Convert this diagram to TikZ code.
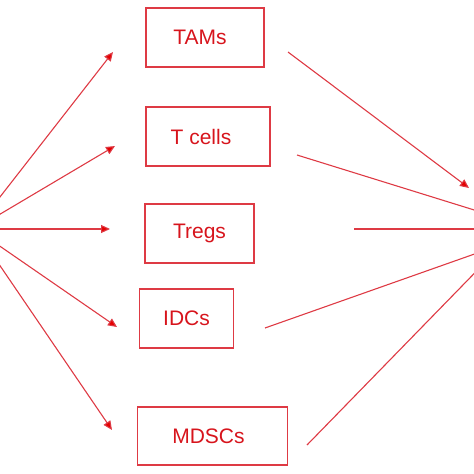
\documentclass[tikz,border=0pt]{standalone}
\usepackage{fontspec}
\setmainfont{Liberation Sans}
\usetikzlibrary{arrows.meta}
\definecolor{lred}{RGB}{222,58,68}
\definecolor{tred}{RGB}{215,20,28}
\tikzset{
  cellbox/.style={draw=lred, line width=1.2pt, rectangle, inner sep=0pt, text=tred,
    font=\fontsize{21}{24}\selectfont, anchor=center},
  conn/.style={draw=lred, line width=1.1pt},
  arr/.style={conn, -{Triangle[length=9pt,width=8pt,fill=red!90!black]}}
}
\begin{document}
\begin{tikzpicture}[x=1pt,y=-1pt]
\useasboundingbox (0,0) rectangle (474,474);
\clip (0,0) rectangle (474,474);
% boxes
\node[cellbox, minimum width=118pt, minimum height=59pt] (tams) at (205,37.5) {\hspace*{-10pt}TAMs};
\node[cellbox, minimum width=124pt, minimum height=59pt] (tcells) at (208,136.5) {\hspace*{-14pt}T cells};
\node[cellbox, minimum width=109pt, minimum height=59pt] (tregs) at (199.5,233.5) {Tregs};
\node[cellbox, minimum width=94pt, minimum height=59pt] (idcs) at (186.5,318.5) {IDCs};
\node[cellbox, minimum width=150pt, minimum height=58pt] (mdscs) at (212.5,436) {\hspace*{-8pt}MDSCs};
% left source and arrow ends
\coordinate (src) at (-25,229);
\coordinate (l1) at (113,52);
\coordinate (l2) at (115,146);
\coordinate (l3) at (110,229);
\coordinate (l4) at (117,327);
\coordinate (l5) at (112,430);
\draw[arr] (src) -- (l1);
\draw[arr] (src) -- (l2);
\draw[arr] (src) -- (l3);
\draw[arr] (src) -- (l4);
\draw[arr] (src) -- (l5);
% right side
\coordinate (r1s) at (288,52);
\coordinate (r1e) at (469,188);
\coordinate (r2s) at (297,155);
\coordinate (r2e) at (500,218);
\coordinate (r3s) at (354,229);
\coordinate (r3e) at (500,229);
\coordinate (r4s) at (265,328);
\coordinate (r4e) at (500,245);
\coordinate (r5s) at (307,445);
\coordinate (r5e) at (500,247);
\draw[arr] (r1s) -- (r1e);
\draw[conn] (r2s) -- (r2e);
\draw[conn] (r3s) -- (r3e);
\draw[conn] (r4s) -- (r4e);
\draw[conn] (r5s) -- (r5e);
\end{tikzpicture}
\end{document}
